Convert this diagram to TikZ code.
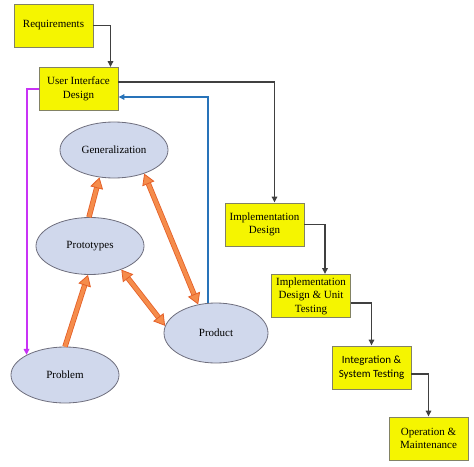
\documentclass[tikz,border=0pt]{standalone}
\usepackage{fontspec}
\setmainfont{Liberation Serif}
\newfontfamily\timesfont{Liberation Serif}
\newfontfamily\calibrifont{Carlito}
\usetikzlibrary{arrows.meta, shapes.geometric}

\definecolor{boxyellow}{RGB}{245,245,0}
\definecolor{boxedge}{RGB}{130,130,100}
\definecolor{blobfill}{RGB}{208,216,236}
\definecolor{blobedge}{RGB}{110,110,125}
\definecolor{orangefill}{RGB}{245,140,75}
\definecolor{orangeedge}{RGB}{228,95,40}
\definecolor{flowgray}{RGB}{64,64,64}
\definecolor{loopblue}{RGB}{40,115,185}
\definecolor{loopmagenta}{RGB}{200,50,245}

\begin{document}
\begin{tikzpicture}[x=1pt, y=-1pt,
    stage/.style={draw=boxedge, line width=0.9pt, fill=boxyellow, minimum width=79pt,
        minimum height=43pt, inner sep=1pt, align=center,
        font=\timesfont\fontsize{11}{13.5}\selectfont},
    blob/.style={ellipse, draw=blobedge, line width=0.8pt, fill=blobfill, inner sep=0pt,
        font=\timesfont\fontsize{11}{13.5}\selectfont},
    flow/.style={-{Triangle[length=6pt, width=5.5pt]}, line width=1.5pt, flowgray},
    feedback/.style={-{Triangle[length=6pt, width=5.5pt]}, line width=2pt},
    fatarrow/.style={draw=orangeedge, line width=0.8pt, double=orangefill, double distance=3.8pt,
        -{Triangle[length=11pt, width=13pt, fill=orangefill, line width=0.8pt]}},
    fatboth/.style={fatarrow, {Triangle[length=11pt, width=13pt, fill=orangefill, line width=0.8pt]}-{Triangle[length=11pt, width=13pt, fill=orangefill, line width=0.8pt]}}
]
    \useasboundingbox (0,0) rectangle (474,466);

    % === Waterfall stages ===
    \node[stage] (req)   at (53.5, 25.5)  {Requirements};
    \node[stage] (uid)   at (78.5, 89)    {User Interface\\Design};
    \node[stage] (impl)  at (264.5, 224.5) {Implementation\\Design};
    \node[stage] (unit)  at (311, 296)    {Implementation\\Design \& Unit\\Testing};
    \node[stage, font=\calibrifont\fontsize{11}{13.5}\selectfont] (integ) at (371.5, 367.5) {Integration \&\\System Testing};
    \node[stage] (oper)  at (428.5, 438.5) {Operation \&\\Maintenance};

    % Flow between stages
    \draw[flow] (req.east) -| ([xshift=32pt]uid.north);
    \draw[flow] ([yshift=7pt]uid.east) -| ([xshift=10pt]impl.north);
    \draw[flow] (impl.east) -| ([xshift=14pt]unit.north);
    \draw[flow] ([yshift=-7pt]unit.east) -| (integ.north);
    \draw[flow] ([yshift=-6.5pt]integ.east) -| (oper.north);

    % === Prototyping cycle ===
    \node[blob, minimum width=108pt, minimum height=56pt] (gen)   at (114, 150) {Generalization};
    \node[blob, minimum width=108pt, minimum height=57pt] (proto) at (90, 246)  {Prototypes};
    \node[blob, minimum width=104pt, minimum height=60pt] (prod)  at (216, 333) {Product};
    \node[blob, minimum width=108pt, minimum height=56pt] (prob)  at (65, 375)  {Problem};

    % Fat arrows
    \draw[fatarrow] (prob.90) -- (proto.266);
    \draw[fatarrow] (proto.92) -- (gen.242);
    \draw[fatboth] (prod.122) -- (gen.322);
    \draw[fatboth] (proto.323) -- (prod.172);

    % Feedback lines
    \draw[feedback, loopblue] (prod.105) |- ([yshift=-8pt]uid.east);
    \draw[feedback, loopmagenta] (uid.west) -| (prob.north west);

\end{tikzpicture}
\end{document}
